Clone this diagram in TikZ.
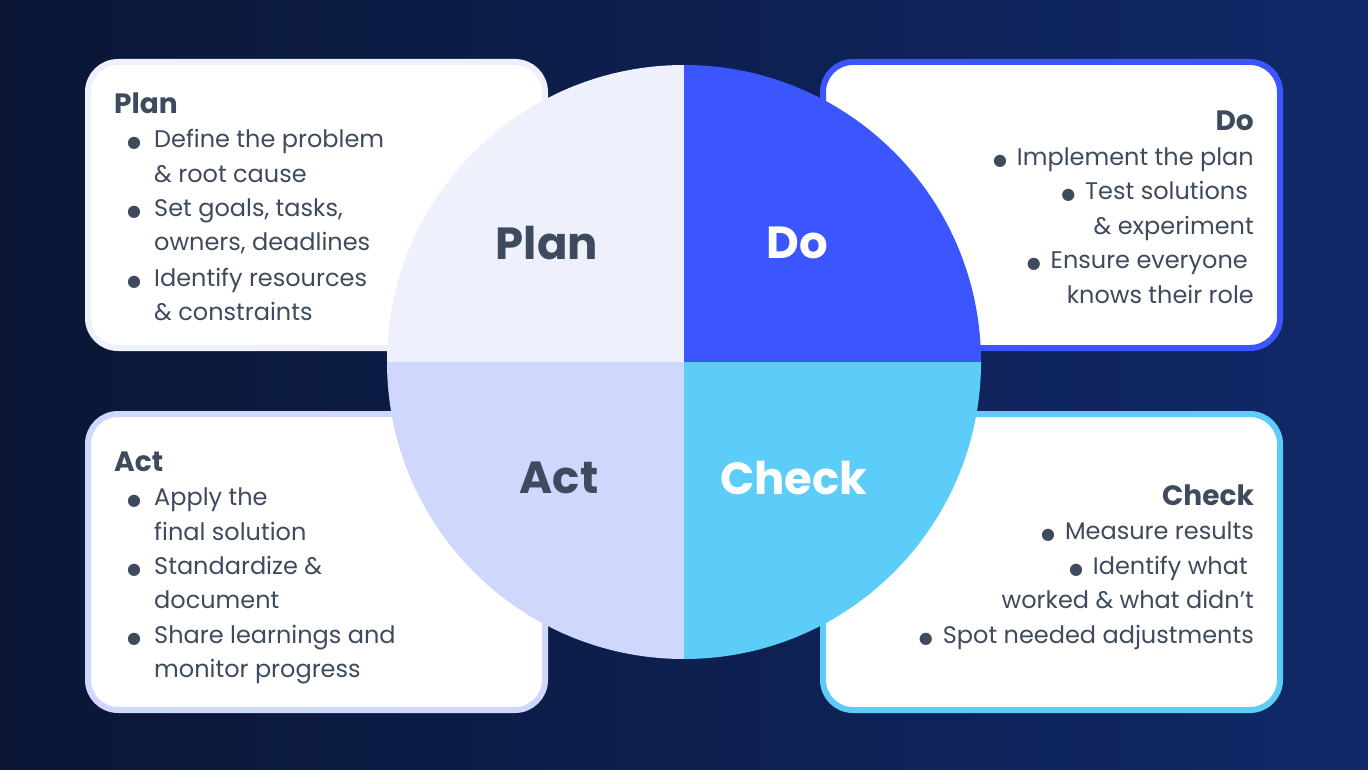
\documentclass[tikz,border=0pt]{standalone}
\usepackage{fontspec}
\setmainfont{Poppins}
\newfontfamily\dv{DejaVu Sans}
\definecolor{bgL}{HTML}{0A1634}
\definecolor{bgR}{HTML}{11296A}
\definecolor{ink}{HTML}{3E4A5D}
\definecolor{cPlan}{HTML}{EEF0FC}
\definecolor{cDo}{HTML}{3B55FF}
\definecolor{cAct}{HTML}{CFD7FC}
\definecolor{cCheck}{HTML}{5CCDF8}
\newcommand{\bul}{{\dv\fontsize{16}{16}\selectfont ●}}
\newcommand{\lbul}{\makebox[27pt][l]{\bul}}
\begin{document}
\begin{tikzpicture}[x=1pt,y=-1pt,
  box/.style={line width=6pt,rounded corners=30pt,fill=white},
  txt/.style={inner sep=0pt,text=ink,font=\fontsize{24}{24}\selectfont},
  tl/.style={txt,anchor=base west},
  tr/.style={txt,anchor=base east},
  ttl/.style={inner sep=0pt,text=ink,font=\fontsize{28}{28}\selectfont\bfseries},
  big/.style={inner sep=0pt,font=\fontsize{45}{45}\selectfont\bfseries}]
\useasboundingbox (0,0) rectangle (1368,770);
\shade[left color=bgL,right color=bgR] (0,0) rectangle (1368,770);
% boxes
\draw[box,draw=cPlan] (88,62) rectangle (545,348);
\draw[box,draw=cDo] (823,62) rectangle (1280,348);
\draw[box,draw=cAct] (88,414) rectangle (545,710);
\draw[box,draw=cCheck] (823,414) rectangle (1280,710);
% circle
\coordinate (c) at (684,362);
\begin{scope}
\clip (c) circle[radius=297];
\fill[cPlan] (c) rectangle ++(-300,-300);
\fill[cDo] (c) rectangle ++(300,-300);
\fill[cCheck] (c) rectangle ++(300,300);
\fill[cAct] (c) rectangle ++(-300,300);
\end{scope}
\node[big,text=ink] (bp) at (547,243) {Plan};
\node[big,text=white] (bd) at (797,243) {Do};
\node[big,text=ink] (ba) at (559,478) {Act};
\node[big,text=white] (bc) at (794,478) {Check};
% Plan
\node[ttl,anchor=base west] (pt) at (114,114) {Plan};
\node[tl] (p1) at (127,148) {\lbul Define the problem};
\node[tl] (p2) at (154,183) {\& root cause};
\node[tl] (p3) at (127,217) {\lbul Set goals, tasks,};
\node[tl] (p4) at (154,251) {owners, deadlines};
\node[tl] (p5) at (127,286) {\lbul Identify resources};
\node[tl] (p6) at (154,320) {\& constraints};
% Act
\node[ttl,anchor=base west] (at) at (114,471) {Act};
\node[tl] (a1) at (127,505) {\lbul Apply the};
\node[tl] (a2) at (154,540) {final solution};
\node[tl] (a3) at (127,574) {\lbul Standardize \&};
\node[tl] (a4) at (154,608) {document};
\node[tl] (a5) at (127,643) {\lbul Share learnings and};
\node[tl] (a6) at (154,677) {monitor progress};
% Do
\node[ttl,anchor=base east] (dt) at (1254,131) {Do};
\node[tr] (d1) at (1254,166) {\bul\hspace{10pt}Implement the plan};
\node[tr] (d2) at (1248,200) {\bul\hspace{10pt}Test solutions};
\node[tr] (d3) at (1254,234) {\& experiment};
\node[tr] (d4) at (1248,269) {\bul\hspace{10pt}Ensure everyone};
\node[tr] (d5) at (1254,303) {knows their role};
% Check
\node[ttl,anchor=base east] (ct) at (1254,505) {Check};
\node[tr] (c1) at (1254,539) {\bul\hspace{10pt}Measure results};
\node[tr] (c2) at (1248,574) {\bul\hspace{10pt}Identify what};
\node[tr] (c3) at (1254,608) {worked \& what didn’t};
\node[tr] (c4) at (1254,643) {\bul\hspace{10pt}Spot needed adjustments};
\end{tikzpicture}
\end{document}
